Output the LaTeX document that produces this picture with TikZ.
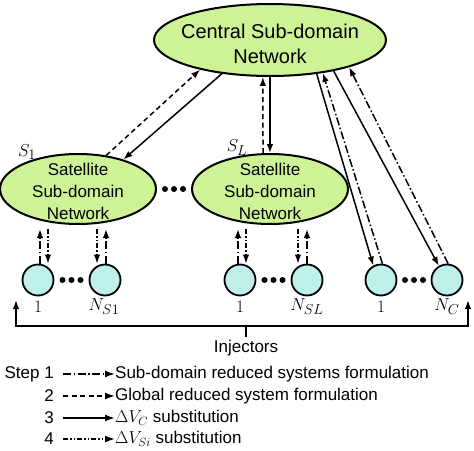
\documentclass[tikz,border=0pt]{standalone}
\usepackage[no-math]{fontspec}
\setmainfont{Liberation Sans}
\usepackage{amsmath}
\usetikzlibrary{shapes.geometric,arrows.meta}
\definecolor{netgreen}{RGB}{205,243,150}
\definecolor{injcyan}{RGB}{192,240,234}
\tikzset{
  subnet/.style={ellipse,draw,line width=2pt,fill=netgreen,inner sep=0pt},
  injector/.style={circle,draw,line width=1.8pt,fill=injcyan,minimum size=31pt,inner sep=0pt},
  netlabel/.style={align=center,inner sep=0pt},
  mathlabel/.style={font=\fontsize{19}{22}\selectfont},
  tip/.style={-{Latex[length=9pt,width=6.5pt]}},
  stepone/.style={tip,line width=1.5pt,dash pattern=on 8pt off 2.5pt on 1.5pt off 2.5pt},
  steptwo/.style={tip,line width=1.5pt,dash pattern=on 5pt off 3.5pt},
  stepthree/.style={tip,line width=1.5pt},
  stepfour/.style={tip,line width=1.5pt,dash pattern=on 5pt off 2pt on 1.5pt off 2pt on 1.5pt off 2pt},
}

\begin{document}
\begin{tikzpicture}[x=1pt,y=-1pt,font=\fontsize{17}{22}\selectfont]
\useasboundingbox (0,0) rectangle (474,450);
% sub-domain networks
\node[subnet,minimum width=232pt,minimum height=72pt] (central) at (270,40) {};
\node[netlabel,font=\fontsize{20}{25}\selectfont] (centraltxt) at (270,44) {Central Sub-domain\\Network};
\node[subnet,minimum width=156pt,minimum height=70pt] (sat1) at (78,189) {};
\node[netlabel] (sat1txt) at (78,191) {Satellite\\Sub-domain\\Network};
\node[subnet,minimum width=156pt,minimum height=70pt] (satL) at (270,189) {};
\node[netlabel] (satLtxt) at (270,191) {Satellite\\Sub-domain\\Network};
\node[mathlabel] (s1lab) at (27,152) {$S_1$};
\node[mathlabel] (sLlab) at (237,148) {$S_L$};
% injectors
\node[injector] (i1) at (38,280) {};  \node[mathlabel] (n1) at (38,307) {$1$};
\node[injector] (i2) at (105,280) {}; \node[mathlabel] (n2) at (104,307) {$N_{S1}$};
\node[injector] (i3) at (240,280) {}; \node[mathlabel] (n3) at (240,307) {$1$};
\node[injector] (i4) at (307,280) {}; \node[mathlabel] (n4) at (307,307) {$N_{SL}$};
\node[injector] (i5) at (381,280) {}; \node[mathlabel] (n5) at (381,307) {$1$};
\node[injector] (i6) at (447,280) {}; \node[mathlabel] (n6) at (447,307) {$N_C$};
\foreach \a/\b in {i1/i2,i3/i4,i5/i6,sat1/satL}{
  \path (\a) -- (\b) coordinate[midway] (mid);
  \foreach \d in {-9,0,9} \fill ([xshift=\d pt]mid) circle (3pt);
}
% central <-> satellites
\draw[steptwo] (sat1.50) -- (central.203);
\draw[stepthree] (central.215) -- (sat1.33);
\draw[steptwo] (satL.101) -- (central.259);
\draw[stepthree] (central.south) -- (satL.north);
% central <-> its injectors
\draw[stepthree] (central.324) -- (i5.118);
\draw[stepone] (i5.85) -- (central.328);
\draw[stepthree] (central.334) -- (i6.120);
\draw[stepone] (i6.86) -- (central.341);
% satellites <-> injectors
\draw[stepone] ([xshift=2pt]i1.north) -- ([xshift=2pt,yshift=-4pt]i1.north |- sat1.south);
\draw[stepfour] ([xshift=10pt,yshift=-4pt]i1.north |- sat1.south) -- ([xshift=10pt]i1.north);
\draw[stepfour] ([xshift=-8pt,yshift=-4pt]i2.north |- sat1.south) -- ([xshift=-8pt]i2.north);
\draw[stepone] ([xshift=1pt]i2.north) -- ([xshift=1pt,yshift=-4pt]i2.north |- sat1.south);
\draw[stepone] ([xshift=-2pt]i3.north) -- ([xshift=-2pt,yshift=-4pt]i3.north |- satL.south);
\draw[stepfour] ([xshift=6pt,yshift=-4pt]i3.north |- satL.south) -- ([xshift=6pt]i3.north);
\draw[stepfour] ([xshift=-9pt,yshift=-4pt]i4.north |- satL.south) -- ([xshift=-9pt]i4.north);
\draw[stepone] ([xshift=0pt]i4.north) -- ([xshift=0pt,yshift=-4pt]i4.north |- satL.south);
% injectors bracket
\node (injlab) at (246,348) {Injectors};
\coordinate (brL) at (16,326);
\coordinate (brR) at (468,326);
\draw[line width=1.5pt,{Latex[length=9pt,width=6.5pt]}-{Latex[length=9pt,width=6.5pt]}] ([yshift=26pt]brL) -- (brL) -- (brR) -- ([yshift=26pt]brR);
\draw[line width=1.5pt] (injlab.north) -- (injlab.north |- brL);
% legend
\node[anchor=east,inner sep=0pt] (st1) at (54,374) {Step 1};
\node[anchor=east,inner sep=0pt] (st2) at (54,396) {2};
\node[anchor=east,inner sep=0pt] (st3) at (54,418) {3};
\node[anchor=east,inner sep=0pt] (st4) at (54,439) {4};
\node[anchor=west,inner sep=0pt] (lg1) at (115,374) {Sub-domain reduced systems formulation};
\node[anchor=west,inner sep=0pt] (lg2) at (115,396) {Global reduced system formulation};
\node[anchor=west,inner sep=0pt] (lg3) at (115,418) {$\Delta V_C$ substitution};
\node[anchor=west,inner sep=0pt] (lg4) at (115,439) {$\Delta V_{Si}$ substitution};
\draw[stepone,-{Latex[length=10pt,width=7pt]}] ([xshift=9pt]st1.east) -- (lg1.west);
\draw[steptwo,-{Latex[length=10pt,width=7pt]}] ([xshift=9pt]st2.east |- lg2.west) -- (lg2.west);
\draw[stepthree,-{Latex[length=10pt,width=7pt]}] ([xshift=9pt]st3.east |- lg3.west) -- (lg3.west);
\draw[stepfour,-{Latex[length=10pt,width=7pt]}] ([xshift=9pt]st4.east |- lg4.west) -- (lg4.west);
\end{tikzpicture}
\end{document}
